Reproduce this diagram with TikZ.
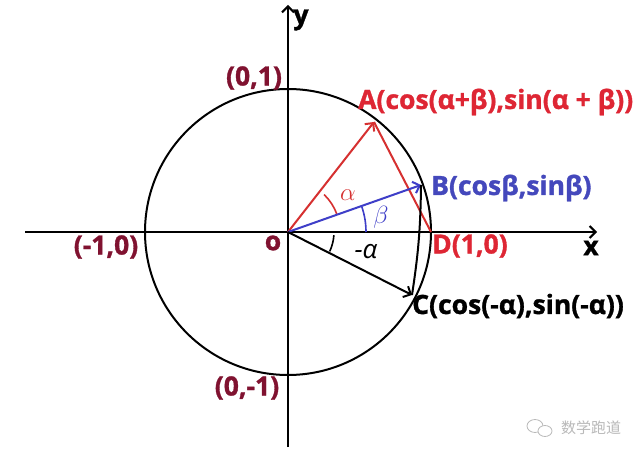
\documentclass[tikz,border=0pt]{standalone}
\usepackage{fontspec}
\setmainfont{Open Sans}[BoldFeatures={FakeBold=1.2}]
\newfontfamily\cjkfont{Noto Sans CJK SC}
\usetikzlibrary{arrows.meta}
\definecolor{lblred}{RGB}{222,38,52}
\definecolor{lblblue}{RGB}{68,72,188}
\definecolor{maroon}{RGB}{128,18,48}
\definecolor{linered}{RGB}{214,48,48}
\definecolor{lineblue}{RGB}{62,62,200}
\definecolor{wmgray}{RGB}{185,185,185}
\tikzset{
  axis/.style={line width=2pt, -{Straight Barb[length=6pt,width=12pt]}},
  vec/.style={line width=2pt, -{Straight Barb[length=6pt,width=12pt]}},
  lbl/.style={font=\fontsize{26.5}{30}\selectfont\bfseries, inner sep=0pt},
  ang/.style={font=\fontsize{30}{32}\selectfont, inner sep=0pt},
}
\begin{document}
\begin{tikzpicture}[x=1pt,y=1pt]
\useasboundingbox[fill=white] (0,0) rectangle (640,458);
\coordinate (O) at (288,226);
\coordinate (A) at (374,336);
\coordinate (B) at (421,273);
\coordinate (C) at (412,163);
\coordinate (D) at (431,226);
\coordinate (xs) at (25,226);
\coordinate (xe) at (597,226);
\coordinate (ys) at (288,11);
\coordinate (ye) at (288,453);
% circle
\draw[line width=2pt] (O) circle[radius=143];
% axes
\draw[axis] (xs) -- (xe);
\draw[axis] (ys) -- (ye);
% angle arcs
\draw[linered, line width=1.6pt] ([shift={(20:52)}]O) arc[start angle=20, end angle=46, radius=52];
\draw[lineblue, line width=1.6pt] ([shift={(0:78)}]O) arc[start angle=0, end angle=19, radius=78];
\draw[black, line width=1.6pt] ([shift={(-4:46)}]O) arc[start angle=-4, end angle=-25, radius=46];
% vectors
\draw[vec, linered] (O) -- (A);
\draw[linered, line width=2pt] (A) -- (D);
\draw[vec, lineblue] (O) -- (B);
\draw[vec, black] (O) -- (C);
\draw[black, line width=2pt] (B) to[bend left=4] (C);
% labels
\node[lbl] (ly) at (301,438) {y};
\node[lbl] (lx) at (591,210) {x};
\node[lbl, maroon] (lo) at (273,215) {o};
\node[lbl, maroon] (l01) at (254,380) {(0,1)};
\node[lbl, maroon] (lm10) at (106,211) {(-1,0)};
\node[lbl, maroon] (l0m1) at (247,70) {(0,-1)};
\node[lbl, lblred, anchor=west] (lA) at (358,356) {A(cos(α+β),sin(α + β))};
\node[lbl, lblblue, anchor=west] (lB) at (431,270) {B(cosβ,sinβ)};
\node[lbl, lblred, anchor=west] (lD) at (432,212) {D(1,0)};
\node[lbl, black, anchor=west] (lC) at (412,152) {C(cos(-α),sin(-α))};
\node[ang, linered] (la) at (348,263) {$\alpha$};
\node[ang, lineblue] (lb) at (381,241) {$\beta$};
\node[ang, black, font=\fontsize{26}{28}\selectfont\itshape] (lma) at (366,206) {-α};
% watermark
\draw[wmgray, line width=0.8pt] (535,32) ellipse[x radius=8, y radius=6.5];
\draw[wmgray, line width=0.8pt, fill=white] (545,27) ellipse[x radius=7, y radius=5.5];
\node[wmgray, font=\cjkfont\fontsize{15}{16}\selectfont, inner sep=0pt] (wm) at (591,30) {数学跑道};
\end{tikzpicture}
\end{document}
